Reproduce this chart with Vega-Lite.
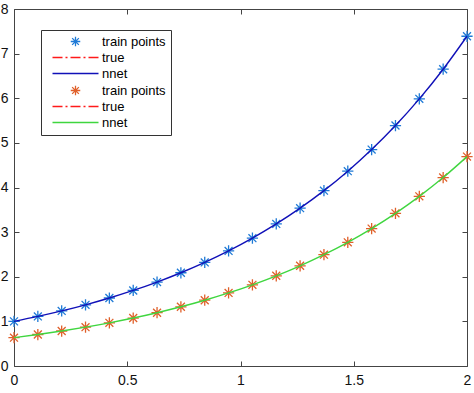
{
  "$schema": "https://vega.github.io/schema/vega-lite/v6.json",
  "autosize": "none",
  "width": 453,
  "height": 357,
  "padding": {"left": 14, "top": 9, "right": 7, "bottom": 27},
  "background": "white",
  "config": {
    "view": {"stroke": null},
    "font": "Liberation Sans",
    "axis": {
      "domainColor": "#444",
      "domainWidth": 1,
      "tickColor": "#444",
      "tickWidth": 1,
      "tickSize": -5,
      "labelFont": "Liberation Sans",
      "labelFontSize": 14,
      "labelColor": "#111",
      "grid": false,
      "title": null
    }
  },
  "data": {
    "values": [
      {"x": 0.0, "y": 1.0, "s": "train points"},
      {"x": 0.10526, "y": 1.111, "s": "train points"},
      {"x": 0.21053, "y": 1.2343, "s": "train points"},
      {"x": 0.31579, "y": 1.3714, "s": "train points"},
      {"x": 0.42105, "y": 1.5236, "s": "train points"},
      {"x": 0.52632, "y": 1.6928, "s": "train points"},
      {"x": 0.63158, "y": 1.8806, "s": "train points"},
      {"x": 0.73684, "y": 2.0893, "s": "train points"},
      {"x": 0.84211, "y": 2.3213, "s": "train points"},
      {"x": 0.94737, "y": 2.5789, "s": "train points"},
      {"x": 1.05263, "y": 2.8652, "s": "train points"},
      {"x": 1.15789, "y": 3.1833, "s": "train points"},
      {"x": 1.26316, "y": 3.5366, "s": "train points"},
      {"x": 1.36842, "y": 3.9291, "s": "train points"},
      {"x": 1.47368, "y": 4.3654, "s": "train points"},
      {"x": 1.57895, "y": 4.8499, "s": "train points"},
      {"x": 1.68421, "y": 5.3883, "s": "train points"},
      {"x": 1.78947, "y": 5.9864, "s": "train points"},
      {"x": 1.89474, "y": 6.6509, "s": "train points"},
      {"x": 2.0, "y": 7.3891, "s": "train points"},
      {"x": 0.0, "y": 0.635, "s": "train points "},
      {"x": 0.10526, "y": 0.7055, "s": "train points "},
      {"x": 0.21053, "y": 0.7838, "s": "train points "},
      {"x": 0.31579, "y": 0.8708, "s": "train points "},
      {"x": 0.42105, "y": 0.9675, "s": "train points "},
      {"x": 0.52632, "y": 1.0749, "s": "train points "},
      {"x": 0.63158, "y": 1.1942, "s": "train points "},
      {"x": 0.73684, "y": 1.3267, "s": "train points "},
      {"x": 0.84211, "y": 1.474, "s": "train points "},
      {"x": 0.94737, "y": 1.6376, "s": "train points "},
      {"x": 1.05263, "y": 1.8194, "s": "train points "},
      {"x": 1.15789, "y": 2.0214, "s": "train points "},
      {"x": 1.26316, "y": 2.2457, "s": "train points "},
      {"x": 1.36842, "y": 2.495, "s": "train points "},
      {"x": 1.47368, "y": 2.772, "s": "train points "},
      {"x": 1.57895, "y": 3.0797, "s": "train points "},
      {"x": 1.68421, "y": 3.4216, "s": "train points "},
      {"x": 1.78947, "y": 3.8014, "s": "train points "},
      {"x": 1.89474, "y": 4.2233, "s": "train points "},
      {"x": 2.0, "y": 4.6921, "s": "train points "},
      {"x": 0.0, "y": 1.0, "s": "nnet"},
      {"x": 0.10526, "y": 1.111, "s": "nnet"},
      {"x": 0.21053, "y": 1.2343, "s": "nnet"},
      {"x": 0.31579, "y": 1.3714, "s": "nnet"},
      {"x": 0.42105, "y": 1.5236, "s": "nnet"},
      {"x": 0.52632, "y": 1.6928, "s": "nnet"},
      {"x": 0.63158, "y": 1.8806, "s": "nnet"},
      {"x": 0.73684, "y": 2.0893, "s": "nnet"},
      {"x": 0.84211, "y": 2.3213, "s": "nnet"},
      {"x": 0.94737, "y": 2.5789, "s": "nnet"},
      {"x": 1.05263, "y": 2.8652, "s": "nnet"},
      {"x": 1.15789, "y": 3.1833, "s": "nnet"},
      {"x": 1.26316, "y": 3.5366, "s": "nnet"},
      {"x": 1.36842, "y": 3.9291, "s": "nnet"},
      {"x": 1.47368, "y": 4.3654, "s": "nnet"},
      {"x": 1.57895, "y": 4.8499, "s": "nnet"},
      {"x": 1.68421, "y": 5.3883, "s": "nnet"},
      {"x": 1.78947, "y": 5.9864, "s": "nnet"},
      {"x": 1.89474, "y": 6.6509, "s": "nnet"},
      {"x": 2.0, "y": 7.3891, "s": "nnet"},
      {"x": 0.0, "y": 0.635, "s": "nnet "},
      {"x": 0.10526, "y": 0.7055, "s": "nnet "},
      {"x": 0.21053, "y": 0.7838, "s": "nnet "},
      {"x": 0.31579, "y": 0.8708, "s": "nnet "},
      {"x": 0.42105, "y": 0.9675, "s": "nnet "},
      {"x": 0.52632, "y": 1.0749, "s": "nnet "},
      {"x": 0.63158, "y": 1.1942, "s": "nnet "},
      {"x": 0.73684, "y": 1.3267, "s": "nnet "},
      {"x": 0.84211, "y": 1.474, "s": "nnet "},
      {"x": 0.94737, "y": 1.6376, "s": "nnet "},
      {"x": 1.05263, "y": 1.8194, "s": "nnet "},
      {"x": 1.15789, "y": 2.0214, "s": "nnet "},
      {"x": 1.26316, "y": 2.2457, "s": "nnet "},
      {"x": 1.36842, "y": 2.495, "s": "nnet "},
      {"x": 1.47368, "y": 2.772, "s": "nnet "},
      {"x": 1.57895, "y": 3.0797, "s": "nnet "},
      {"x": 1.68421, "y": 3.4216, "s": "nnet "},
      {"x": 1.78947, "y": 3.8014, "s": "nnet "},
      {"x": 1.89474, "y": 4.2233, "s": "nnet "},
      {"x": 2.0, "y": 4.6921, "s": "nnet "}
    ]
  },
  "layer": [
    {
      "transform": [{"filter": "indexof(datum.s, 'train') === 0"}],
      "mark": {"type": "point", "filled": false, "size": 140, "strokeWidth": 1.3, "opacity": 1},
      "encoding": {
        "x": {"field": "x", "type": "quantitative", "scale": {"domain": [0, 2], "nice": false, "zero": false},
              "axis": {"orient": "bottom", "values": [0, 0.5, 1, 1.5, 2], "format": "~g", "labelPadding": 12, "labelFlush": false}},
        "y": {"field": "y", "type": "quantitative", "scale": {"domain": [0, 8], "nice": false},
              "axis": {"orient": "left", "values": [0, 1, 2, 3, 4, 5, 6, 7, 8], "labelPadding": 11, "labelFlush": false}},
        "shape": {"field": "s", "type": "nominal",
          "scale": {"domain": ["train points", "true", "nnet", "train points ", "true ", "nnet "],
                    "range": [
                      "M-0.95,0L0.95,0M0,-0.95L0,0.95M-0.67,-0.67L0.67,0.67M-0.67,0.67L0.67,-0.67",
                      "M-4.6,0L-2.6,0M-2,0L-1.6,0M-1,0L1,0M1.6,0L2,0M2.6,0L4.6,0",
                      "M-4.6,0L4.6,0",
                      "M-0.95,0L0.95,0M0,-0.95L0,0.95M-0.67,-0.67L0.67,0.67M-0.67,0.67L0.67,-0.67",
                      "M-4.6,0L-2.6,0M-2,0L-1.6,0M-1,0L1,0M1.6,0L2,0M2.6,0L4.6,0",
                      "M-4.6,0L4.6,0"
                    ]},
          "legend": {
            "orient": "none",
            "legendX": 27,
            "legendY": 21,
            "title": null,
            "symbolSize": 100,
            "symbolStrokeWidth": 1.3,
            "symbolFillColor": "transparent",
            "labelFont": "Liberation Sans",
            "labelFontSize": 13,
            "labelColor": "#000",
            "labelOffset": 20,
            "symbolOffset": 23,
            "strokeColor": "#333",
            "fillColor": "white",
            "padding": 5,
            "rowPadding": 2
          }},
        "stroke": {"field": "s", "type": "nominal",
          "scale": {"domain": ["train points", "true", "nnet", "train points ", "true ", "nnet "],
                    "range": ["#1f7ad6", "#ff1a1a", "#1010b8", "#e0602a", "#ff1a1a", "#3fd63f"]},
          "legend": {
            "orient": "none",
            "legendX": 27,
            "legendY": 21,
            "title": null,
            "symbolSize": 100,
            "symbolStrokeWidth": 1.3,
            "symbolFillColor": "transparent",
            "labelFont": "Liberation Sans",
            "labelFontSize": 13,
            "labelColor": "#000",
            "labelOffset": 20,
            "symbolOffset": 23,
            "strokeColor": "#333",
            "fillColor": "white",
            "padding": 5,
            "rowPadding": 2
          }}
      }
    },
    {
      "transform": [{"filter": "indexof(datum.s, 'nnet') === 0"}],
      "mark": {"type": "line", "strokeWidth": 1.4, "interpolate": "monotone"},
      "encoding": {
        "x": {"field": "x", "type": "quantitative",
              "axis": {"orient": "top", "values": [0, 0.5, 1, 1.5, 2], "labels": false}},
        "y": {"field": "y", "type": "quantitative",
              "axis": {"orient": "right", "values": [0, 1, 2, 3, 4, 5, 6, 7, 8], "labels": false}},
        "detail": {"field": "s", "type": "nominal"},
        "stroke": {"field": "s", "type": "nominal"}
      }
    }
  ],
  "resolve": {"axis": {"x": "independent", "y": "independent"}}
}
